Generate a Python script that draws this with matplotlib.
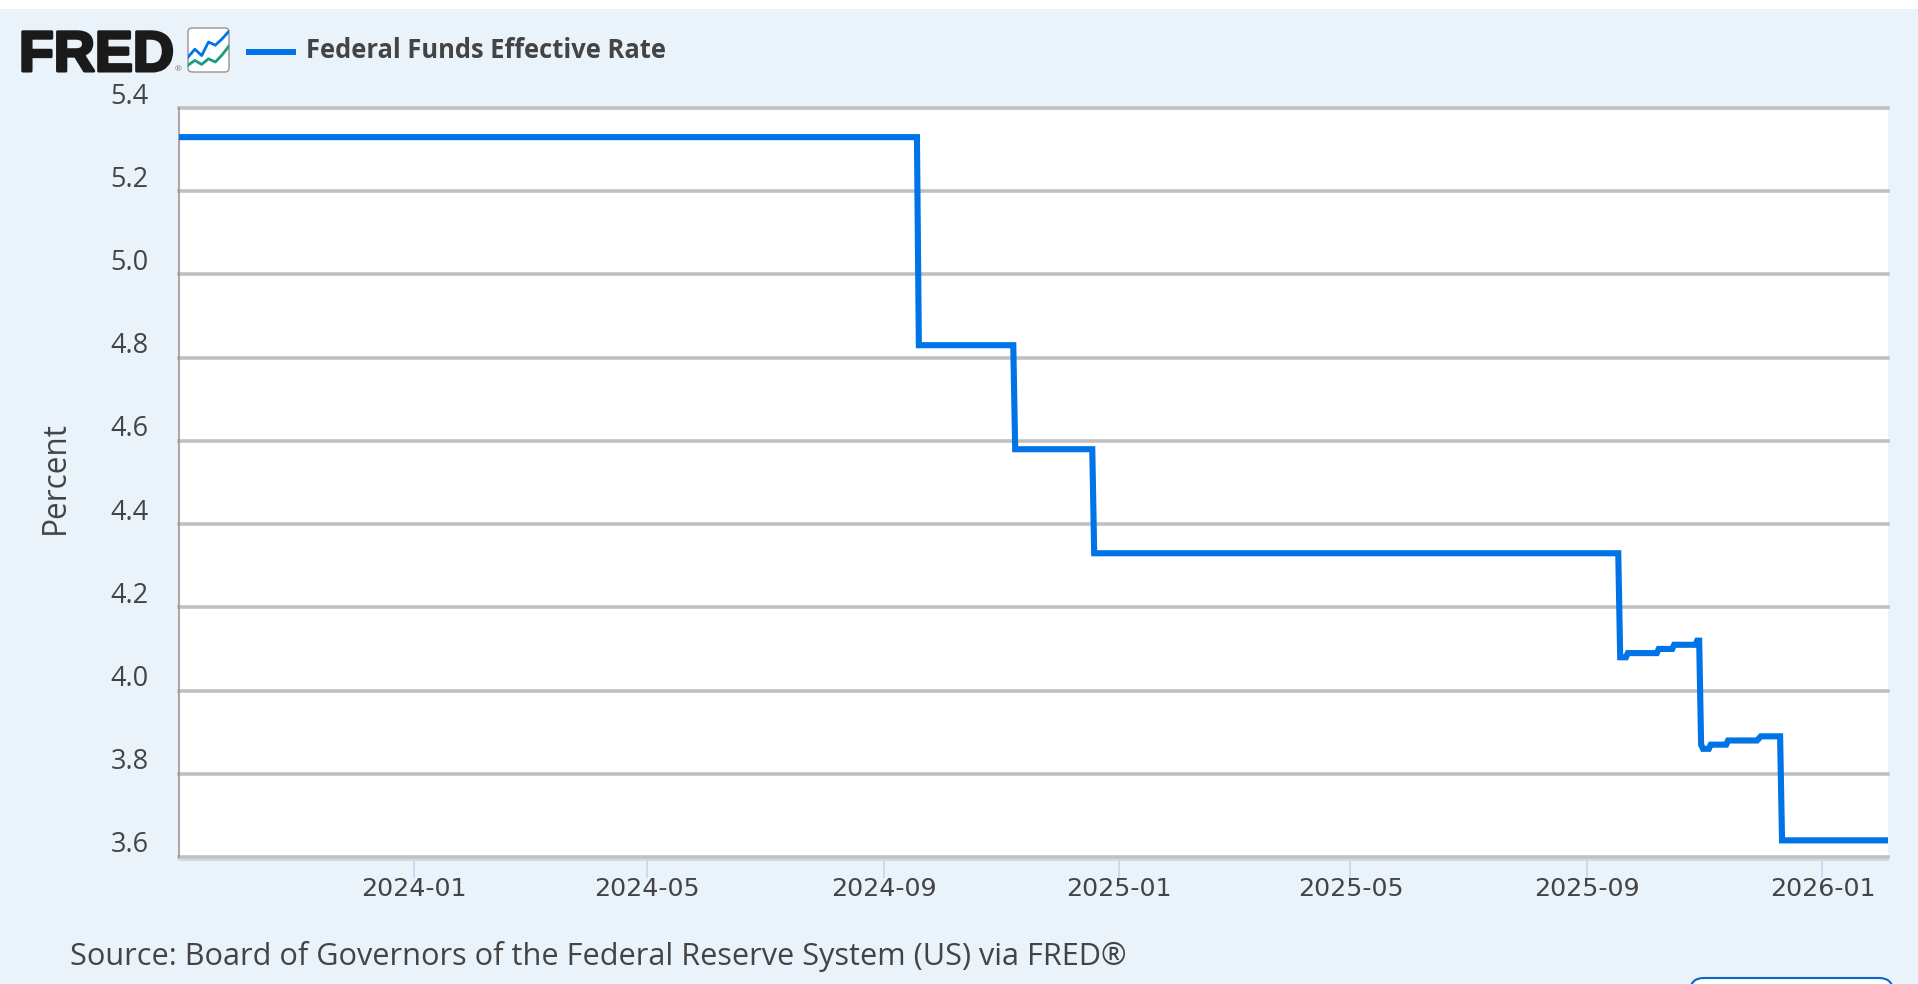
"""Federal Funds Effective Rate line chart in the FRED style."""

import matplotlib

matplotlib.use("Agg")
import matplotlib.dates as mdates
import matplotlib.patheffects as pe
import matplotlib.pyplot as plt
import pandas as pd
from matplotlib.patches import FancyBboxPatch, Rectangle
from matplotlib.transforms import IdentityTransform, ScaledTranslation

WIDTH, HEIGHT = 1918, 984
DPI = 100

# rate in percent at each change point
dates = [
    "2023-09-01", "2024-09-18", "2024-09-19", "2024-11-07", "2024-11-08",
    "2024-12-18", "2024-12-19", "2025-09-17", "2025-09-18", "2025-09-21",
    "2025-09-22", "2025-10-07", "2025-10-08", "2025-10-15", "2025-10-16",
    "2025-10-27", "2025-10-28", "2025-10-29", "2025-10-30", "2025-10-31",
    "2025-11-03", "2025-11-04", "2025-11-12", "2025-11-13", "2025-11-28",
    "2025-11-30", "2025-12-10", "2025-12-11", "2026-02-04",
]
rates = [
    5.33, 5.33, 4.83, 4.83, 4.58,
    4.58, 4.33, 4.33, 4.08, 4.08,
    4.09, 4.09, 4.10, 4.10, 4.11,
    4.11, 4.12, 4.12, 3.87, 3.86,
    3.86, 3.87, 3.87, 3.88, 3.88,
    3.89, 3.89, 3.64, 3.64,
]
y_ticks = [3.6, 3.8, 4.0, 4.2, 4.4, 4.6, 4.8, 5.0, 5.2, 5.4]
x_ticks = ["2024-01", "2024-05", "2024-09", "2025-01", "2025-05", "2025-09", "2026-01"]

# little trend lines inside the logo badge
badge_x = [0, 1, 2, 3, 4, 5, 6]
badge_blue = [0.32, 0.52, 0.36, 0.70, 0.62, 0.78, 0.97]
badge_green = [0.12, 0.24, 0.14, 0.28, 0.20, 0.38, 0.60]

BLUE = "#0073E6"
GREEN = "#1A9A87"
PAGE = "#EAF2FA"
GRID = "#C0C0C0"
TICK = "#C9D6EA"
TEXT = "#444444"
FONT = "Open Sans"


def fx(px):
    return px / WIDTH


def fy(px):
    return 1 - px / HEIGHT


def px_rect(left, top, right, bottom):
    return [fx(left), fy(bottom), (right - left) / WIDTH, (bottom - top) / HEIGHT]


def rounded(left, top, right, bottom, radius, **kwargs):
    return FancyBboxPatch(
        (left, HEIGHT - bottom),
        right - left,
        bottom - top,
        boxstyle=f"round,pad=0,rounding_size={radius}",
        transform=IdentityTransform(),
        **kwargs,
    )


fig = plt.figure(figsize=(WIDTH / DPI, HEIGHT / DPI), dpi=DPI, facecolor=PAGE)
fig.add_artist(
    Rectangle((0, fy(9)), 1, 9 / HEIGHT, transform=fig.transFigure, fc="white", ec="none")
)

ax = fig.add_axes(px_rect(179, 108, 1888, 857))
ax.set_facecolor("white")
ax.plot(
    pd.to_datetime(dates),
    rates,
    color=BLUE,
    lw=4.4,
    solid_joinstyle="miter",
    solid_capstyle="butt",
    zorder=3,
)
ax.set_xlim(pd.Timestamp("2023-09-01"), pd.Timestamp("2026-02-04"))
ax.set_ylim(3.6, 5.4)

ax.set_yticks(y_ticks)
ax.set_yticklabels([f"{v:.1f}" for v in y_ticks])
ax.tick_params(axis="y", length=0, pad=22, labelsize=19.5, labelcolor=TEXT)
ax.yaxis.grid(True, color=GRID, lw=2.6, zorder=1)
for line in ax.yaxis.get_gridlines():
    line.set_clip_on(False)
# the labels sit above their grid lines
shift = ScaledTranslation(0, 15 / DPI, fig.dpi_scale_trans)
for label in ax.get_yticklabels():
    label.set_fontfamily(FONT)
    label.set_transform(label.get_transform() + shift)

ax.set_xticks(pd.to_datetime(x_ticks))
ax.xaxis.set_major_formatter(mdates.DateFormatter("%Y-%m"))
ax.tick_params(
    axis="x", length=13, width=1.2, color=TICK, pad=-1, labelsize=18.3, labelcolor=TEXT
)
for label in ax.get_xticklabels():
    label.set_fontfamily(FONT)

for side in ("top", "right"):
    ax.spines[side].set_visible(False)
ax.spines["left"].set_color("#999999")
ax.spines["left"].set_linewidth(1.2)
ax.spines["bottom"].set_color(TICK)
ax.spines["bottom"].set_linewidth(1.2)
ax.spines["bottom"].set_position(("outward", 2.2))

fig.text(fx(55), fy(477), "Percent", rotation=90, ha="center", va="center",
         fontsize=22.7, color=TEXT, family=FONT)

# header: logo, badge and legend entry
fig.text(fx(19), fy(71), "FRED", ha="left", va="baseline", fontsize=41, weight="bold",
         color="#1A1A1A", family="Liberation Sans",
         path_effects=[pe.withStroke(linewidth=2.2, foreground="#1A1A1A")])
fig.text(fx(175), fy(71), "®", ha="left", va="baseline", fontsize=6, color="#777777",
         family=FONT)

fig.add_artist(rounded(188, 28, 229, 72, 4, fc="white", ec="#8A8A8A", lw=0.9))
badge = fig.add_axes(px_rect(188, 30, 229, 70), zorder=2)
badge.axis("off")
badge.patch.set_alpha(0)
badge.plot(badge_x, badge_blue, color=BLUE, lw=2)
badge.plot(badge_x, badge_green, color=GREEN, lw=2)
badge.set_xlim(0, 6)
badge.set_ylim(0, 1)

legend_line = plt.Line2D([fx(246), fx(296)], [fy(52), fy(52)], color=BLUE, lw=4.3,
                         solid_capstyle="butt", transform=fig.transFigure)
fig.add_artist(legend_line)
fig.text(fx(306), fy(51), "Federal Funds Effective Rate", ha="left", va="center",
         fontsize=18.4, weight="bold", color=TEXT, family=FONT)

fig.text(fx(70), fy(957), "Source: Board of Governors of the Federal Reserve System (US) via FRED®",
         ha="left", va="center", fontsize=22.1, color=TEXT, family=FONT)

# top of the button below the chart
fig.add_artist(rounded(1690, 978, 1893, 1010, 14, fc="white", ec="#0A66C8", lw=1.5))

fig.savefig("out.png", dpi=DPI, facecolor=PAGE)
